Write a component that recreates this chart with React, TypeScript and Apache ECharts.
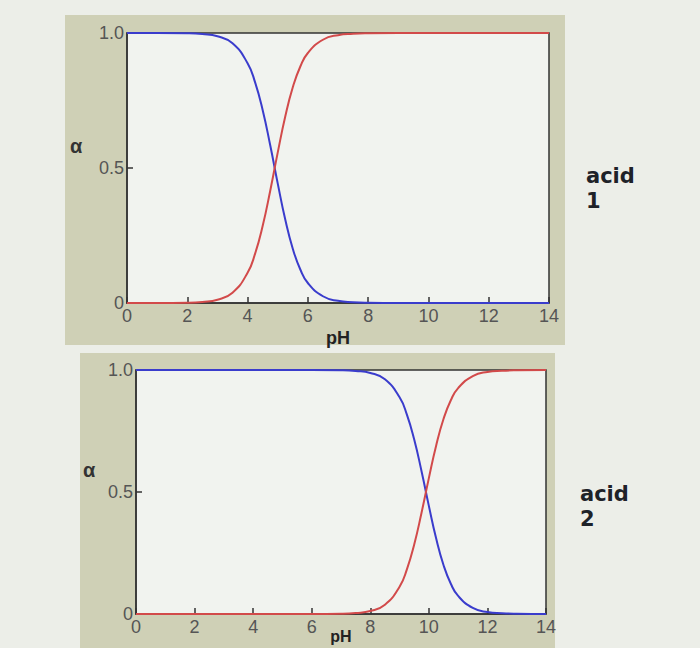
import React, { useEffect, useRef } from "react";
import * as echarts from "echarts";

// Acid 1
const pH1 = [0, 1, 2, 2.5, 3, 3.5, 4, 4.25, 4.5, 4.75, 5, 5.25, 5.5, 5.75, 6, 6.5, 7, 7.5, 8, 9, 10, 11, 12, 13, 14];
const acid1HA = [1, 1, 0.999, 0.996, 0.988, 0.962, 0.888, 0.817, 0.715, 0.585, 0.443, 0.309, 0.201, 0.124, 0.074, 0.025, 0.008, 0.003, 0.001, 0, 0, 0, 0, 0, 0];
const acid1A = [0, 0, 0.001, 0.004, 0.012, 0.038, 0.112, 0.183, 0.285, 0.415, 0.557, 0.691, 0.799, 0.876, 0.926, 0.975, 0.992, 0.997, 0.999, 1, 1, 1, 1, 1, 1];

// Acid 2
const pH2 = [0, 2, 4, 6, 7, 7.5, 8, 8.5, 9, 9.25, 9.5, 9.75, 10, 10.25, 10.5, 10.75, 11, 11.5, 12, 12.5, 13, 14];
const acid2HA = [1, 1, 1, 1, 0.999, 0.996, 0.988, 0.962, 0.888, 0.817, 0.715, 0.585, 0.443, 0.309, 0.201, 0.124, 0.074, 0.025, 0.008, 0.003, 0.001, 0];
const acid2A = [0, 0, 0, 0, 0.001, 0.004, 0.012, 0.038, 0.112, 0.183, 0.285, 0.415, 0.557, 0.691, 0.799, 0.876, 0.926, 0.975, 0.992, 0.997, 0.999, 1];

const xTicks = [0, 2, 4, 6, 8, 10, 12, 14];
const yTicks = ["0", "0.5", "1.0"];
const panelLabels = ["acid\n1", "acid\n2"];

const BLUE = "#3a3ccc";
const RED = "#d24a4a";

function pairs(xs: number[], ys: number[]) {
  return xs.map((x, i) => [x, ys[i]]);
}

export default function App() {
  const ref = useRef<HTMLDivElement>(null);
  useEffect(() => {
    document.body.style.margin = "0";
    const chart = echarts.init(ref.current!, null, { renderer: "svg" });
    const font = "Liberation Sans, Arial, sans-serif";
    const xAxisBase = (gridIndex: number, name: string) => ({
      type: "value",
      gridIndex,
      min: xTicks[0],
      max: xTicks[xTicks.length - 1],
      interval: 2,
      name,
      nameLocation: "middle",
      nameGap: 26,
      nameTextStyle: { fontFamily: font, fontSize: 18, fontWeight: "bold", color: "#222" },
      axisLine: { show: true, lineStyle: { color: "#333", width: 1.5 } },
      axisTick: { show: true, inside: true, length: 6, lineStyle: { color: "#333", width: 1.5 } },
      axisLabel: { fontFamily: font, fontSize: 18, color: "#555", margin: 4 },
      splitLine: { show: false },
    });
    const yAxisBase = (gridIndex: number) => ({
      type: "value",
      gridIndex,
      min: 0,
      max: 1,
      interval: 0.5,
      axisLine: { show: true, lineStyle: { color: "#333", width: 1.5 } },
      axisTick: { show: true, inside: true, length: 6, lineStyle: { color: "#333", width: 1.5 } },
      axisLabel: {
        fontFamily: font,
        fontSize: 18,
        color: "#555",
        margin: 3,
        formatter: (v: number) => (v === 0 ? yTicks[0] : v === 0.5 ? yTicks[1] : yTicks[2]),
      },
      splitLine: { show: false },
    });
    const lineSeries = (idx: number, data: number[][], color: string) => ({
      type: "line",
      xAxisIndex: idx,
      yAxisIndex: idx,
      data,
      showSymbol: false,
      smooth: 0.5,
      lineStyle: { color, width: 2 },
      itemStyle: { color },
    });
    chart.setOption({
      animation: false,
      backgroundColor: "#eceee8",
      grid: [
        { left: 127, top: 33, width: 422, height: 270, outerBoundsMode: "none", containLabel: false, show: true, backgroundColor: "#f1f3ef", borderColor: "#333", borderWidth: 1.5 },
        { left: 136, top: 370, width: 410, height: 244, outerBoundsMode: "none", containLabel: false, show: true, backgroundColor: "#f1f3ef", borderColor: "#333", borderWidth: 1.5 },
      ],
      xAxis: [xAxisBase(0, "pH"), xAxisBase(1, "")],
      yAxis: [yAxisBase(0), yAxisBase(1)],
      series: [
        lineSeries(0, pairs(pH1, acid1HA), BLUE),
        lineSeries(0, pairs(pH1, acid1A), RED),
        lineSeries(1, pairs(pH2, acid2HA), BLUE),
        lineSeries(1, pairs(pH2, acid2A), RED),
      ],
      graphic: [
        { type: "rect", z: -100, shape: { x: 65, y: 15, width: 500, height: 330 }, style: { fill: "#cfd0b6" } },
        { type: "rect", z: -100, shape: { x: 80, y: 353, width: 475, height: 295 }, style: { fill: "#cfd0b6" } },
        { type: "text", x: 70, y: 136, style: { text: "α", font: "bold 20px " + font, fill: "#333" } },
        { type: "text", x: 83, y: 460, style: { text: "α", font: "bold 20px " + font, fill: "#333" } },
        { type: "text", x: 341, y: 636, style: { text: "pH", font: "bold 16px " + font, fill: "#222", align: "center", verticalAlign: "middle" } },
        { type: "text", x: 586, y: 163, style: { text: panelLabels[0], font: "bold 21px DejaVu Sans, sans-serif", fill: "#1e2228", lineHeight: 25 } },
        { type: "text", x: 580, y: 481, style: { text: panelLabels[1], font: "bold 21px DejaVu Sans, sans-serif", fill: "#1e2228", lineHeight: 25 } },
      ],
    });
    return () => chart.dispose();
  }, []);
  return <div ref={ref} style={{ position: "fixed", left: 0, top: 0, width: 700, height: 648 }} />;
}
